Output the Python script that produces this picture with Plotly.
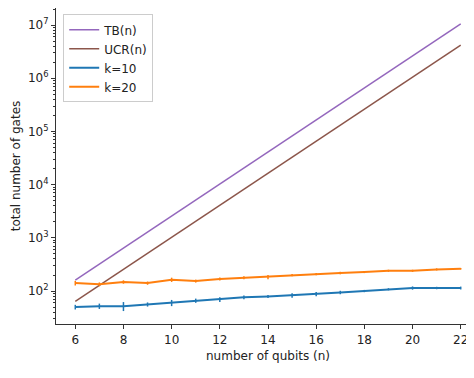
import plotly.graph_objects as go

n_qubits = list(range(6, 23))
tb_values = [160, 320, 640, 1280, 2560, 5120, 10240, 20480, 40960, 81920, 163840,
             327680, 655360, 1310720, 2621440, 5242880, 10485760]
ucr_values = [64, 128, 256, 512, 1024, 2048, 4096, 8192, 16384, 32768, 65536,
              131072, 262144, 524288, 1048576, 2097152, 4194304]
k10_values = [50, 52, 52, 56, 60, 66, 69, 76, 79, 83, 88, 94, 100, 108, 114, 114, 114]
k10_err = [5, 6, 10, 5, 8, 6, 7, 6, 5, 8, 8, 7, 5, 5, 8, 6, 7]
k20_values = [141, 134, 148, 141, 163, 154, 168, 178, 183, 200, 208, 218, 227, 240, 240, 255, 262]
k20_err = [14, 11, 11, 10, 15, 10, 11, 11, 16, 10, 11, 12, 10, 11, 11, 12, 9]

x_ticks = [6, 8, 10, 12, 14, 16, 18, 20, 22]
y_tick_vals = [1e2, 1e3, 1e4, 1e5, 1e6, 1e7]
y_tick_text = ["10<sup>2</sup>", "10<sup>3</sup>", "10<sup>4</sup>",
               "10<sup>5</sup>", "10<sup>6</sup>", "10<sup>7</sup>"]
minor_vals = [m * 10 ** e for e in range(1, 8) for m in range(2, 10)]

fig = go.Figure()
fig.add_trace(go.Scatter(x=n_qubits, y=tb_values, mode="lines", name="TB(n)",
                         line=dict(color="#9467bd", width=1.5)))
fig.add_trace(go.Scatter(x=n_qubits, y=ucr_values, mode="lines", name="UCR(n)",
                         line=dict(color="#8c564b", width=1.5)))
fig.add_trace(go.Scatter(x=n_qubits, y=k10_values, mode="lines", name="k=10",
                         line=dict(color="#1f77b4", width=2),
                         error_y=dict(type="data", array=k10_err, width=0,
                                      thickness=1.5, color="#1f77b4")))
fig.add_trace(go.Scatter(x=n_qubits, y=k20_values, mode="lines", name="k=20",
                         line=dict(color="#ff7f0e", width=2),
                         error_y=dict(type="data", array=k20_err, width=0,
                                      thickness=1.5, color="#ff7f0e")))

fig.update_layout(
    width=474, height=378,
    margin=dict(l=48, r=2, t=0, b=62, autoexpand=False),
    paper_bgcolor="white", plot_bgcolor="white",
    font=dict(family="DejaVu Sans", size=12, color="#222"),
    showlegend=True,
    legend=dict(x=0.017, y=0.98, xanchor="left", yanchor="top",
                bgcolor="rgba(255,255,255,0.9)", bordercolor="#cccccc",
                borderwidth=1, font=dict(size=12), tracegroupgap=0,
                itemwidth=30),
)
fig.update_xaxes(
    range=[5.2, 22.8], tickvals=x_ticks, showgrid=False, zeroline=False,
    showline=True, linecolor="#333", linewidth=1.2, automargin=False,
    ticks="outside", ticklen=4, tickcolor="#333",
    title=dict(text="number of qubits (n)", standoff=6, font=dict(size=12)),
)
fig.update_yaxes(
    type="log", range=[1.38, 7.32], tickvals=y_tick_vals, ticktext=y_tick_text,
    showgrid=False, zeroline=False, showline=True, mirror=True, automargin=False,
    linecolor="#333", linewidth=1.2,
    ticks="outside", ticklen=4, tickcolor="#333",
    minor=dict(tickvals=minor_vals, ticks="outside", ticklen=2, tickcolor="#333"),
    title=dict(text="total number of gates", standoff=4, font=dict(size=12)),
)

fig.write_html("out.html")
